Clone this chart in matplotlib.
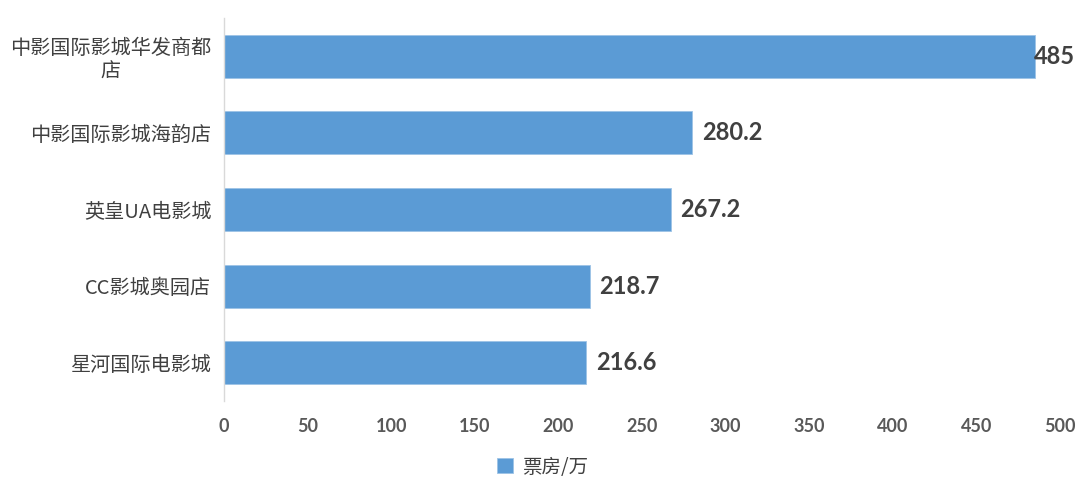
import matplotlib
matplotlib.use("Agg")
import matplotlib.pyplot as plt

categories = ["中影国际影城华发商都\n店", "中影国际影城海韵店", "英皇UA电影城", "CC影城奥园店", "星河国际电影城"]
values = [485, 280.2, 267.2, 218.7, 216.6]
value_labels = ["485", "280.2", "267.2", "218.7", "216.6"]
xticks = [0, 50, 100, 150, 200, 250, 300, 350, 400, 450, 500]
series_name = "票房/万"

plt.rcParams['font.family'] = ['Noto Sans CJK SC', 'DejaVu Sans']

fig = plt.figure(figsize=(10.8, 4.95), dpi=100)
ax = fig.add_axes([224/1080, 1 - 401/495, (1060-224)/1080, (401-18)/495])

color = "#5B9BD5"
ypos = list(range(len(categories)))
bars = ax.barh(ypos, values, height=0.56, color=color, edgecolor="#9DC3E6", linewidth=0.6,
               label=series_name)
ax.set_ylim(len(categories) - 0.5, -0.5)
ax.set_xlim(0, 500)
ax.set_yticks(ypos)
ax.set_yticklabels(categories, fontsize=14.5, color="#404040", multialignment="center")
ax.set_xticks(xticks)
ax.set_xticklabels([str(t) for t in xticks], fontsize=13, fontweight="bold",
                   color="#595959", family=["Lato", "DejaVu Sans"])
ax.tick_params(axis="both", length=0)
ax.tick_params(axis="y", pad=9)
ax.tick_params(axis="x", pad=12.5)
for s in ["top", "right", "bottom"]:
    ax.spines[s].set_visible(False)
ax.spines["left"].set_color("#D9D9D9")
ax.spines["left"].set_linewidth(1.0)

fig.canvas.draw()
renderer = fig.canvas.get_renderer()
for y, v, lab in zip(ypos, values, value_labels):
    t = ax.annotate(lab, xy=(v, y), xytext=(7, 0), textcoords="offset points",
                    ha="left", va="center", fontsize=17, fontweight="bold",
                    color="#404040", family=["Lato", "DejaVu Sans"])
    bb = t.get_window_extent(renderer)
    if bb.x1 > 1075:
        t.remove()
        ax.annotate(lab, xy=(v, y), xytext=(1075, 0), textcoords=("figure pixels", "offset points"),
                    ha="right", va="center", fontsize=17, fontweight="bold",
                    color="#404040", family=["Lato", "DejaVu Sans"])

leg = fig.legend(handles=[bars], labels=[series_name], loc="center",
                 bbox_to_anchor=(543/1080, 1 - 467/495), frameon=False,
                 fontsize=14, handlelength=0.8, handleheight=0.8, handletextpad=0.5)
for txt in leg.get_texts():
    txt.set_color("#404040")

fig.savefig("out.png", dpi=100)
